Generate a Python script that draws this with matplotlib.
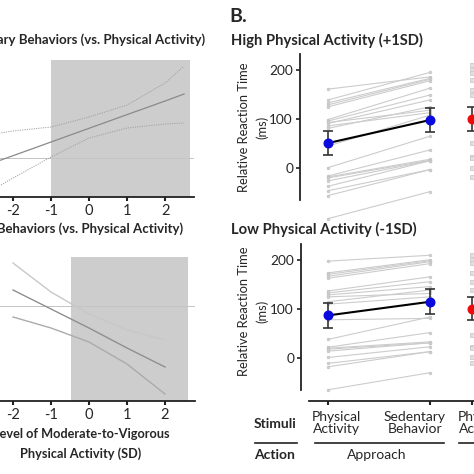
import matplotlib
matplotlib.use('Agg')
import matplotlib.pyplot as plt

plt.rcParams['font.family'] = ['Lato', 'DejaVu Sans']

# ---------------- data ----------------
# Panel A: conditional effect across level of MVPA (SD)
mvpa_ticks = [-2, -1, 0, 1, 2]

top_x = [-2.5, -2, -1, 0, 1, 2, 2.5]
top_est = [-4.5, 2.3, 16, 29.7, 43.4, 57, 64]
top_upper = [24, 27, 31, 41, 53, 75, 92]
top_lower = [-31, -20, 1, 20, 30, 34, 35]
top_region = [-1.0, 2.66]

bot_x = [-2, -1, 0, 1, 2]
bot_est = [16, -3, -22, -42, -61]
bot_upper = [43, 14, -8, -24, -34]
bot_lower = [-11, -22, -36, -58, -88]
bot_region = [-0.47, 2.6]

# Panel B: relative reaction time (ms)
cond_pos = [0, 1, 1.41]
yticks_b = [0, 100, 200]

high_pa = [161, 139, 133, 129, 125, 99, 96, 91, 81, 93, 86, 45, 1, -16, -18, -20, -26, -37, -46, -56, -103]
high_sb = [186, 195, 183, 181, 178, 163, 149, 139, 125, 118, 113, 108, 65, 37, 18, 16, 15, 15, -3, -3, -48]
high_avoid_pa = [210, 200, 194, 180, 159, 149, 51, 22, 20, 0, -18]
high_means = [51, 98, 100]
high_err = [25, 25, 24]

low_pa = [198, 174, 171, 167, 163, 137, 133, 129, 115, 125, 110, 78, 38, 22, 20, 18, 14, 1, -11, -18, -65]
low_sb = [210, 201, 199, 197, 193, 166, 156, 146, 139, 132, 125, 81, 84, 52, 33, 31, 31, 23, 13, 13, -30]
low_avoid_pa = [210, 200, 194, 173, 155, 139, 47, 22, 20, 2, -10]
low_means = [87, 115, 101]
low_err = [25, 25, 24]

# ---------------- layout helpers ----------------
W = 474.0
fig = plt.figure(figsize=(4.74, 4.74), dpi=100)


def rect(x0, y0, x1, y1):
    return [x0 / W, 1 - y1 / W, (x1 - x0) / W, (y1 - y0) / W]


def ft(x, y, s, **kw):
    kw.setdefault('va', 'center')
    fig.text(x / W, 1 - y / W, s, **kw)


TXT = '#262626'

# ---------------- Panel A ----------------
def panel_a(ax, xs, est, up, lo, region, ylim, xlim, style):
    ax.axvspan(region[0], region[1], color='#cdcdcd', lw=0, zorder=0)
    ax.axhline(0, color='#c4c4c4', lw=0.7, zorder=1)
    if style == 'dotted':
        ax.plot(xs, up, color='#a0a0a0', lw=0.7, ls=(0, (1.2, 1.2)), zorder=2)
        ax.plot(xs, lo, color='#a0a0a0', lw=0.7, ls=(0, (1.2, 1.2)), zorder=2)
        ax.plot(xs, est, color='#8a8a8a', lw=0.9, zorder=3)
    else:
        ax.plot(xs, up, color='#c8c8c8', lw=1.0, zorder=2)
        ax.plot(xs, lo, color='#ababab', lw=1.0, zorder=2)
        ax.plot(xs, est, color='#8f8f8f', lw=1.0, zorder=3)
    ax.set_xlim(*xlim)
    ax.set_ylim(*ylim)
    for s in ['top', 'right', 'left']:
        ax.spines[s].set_visible(False)
    ax.spines['bottom'].set_linewidth(1.3)
    ax.spines['bottom'].set_color('#222222')
    ax.set_yticks([])
    ax.set_xticks(mvpa_ticks)
    ax.set_xticklabels([str(t) for t in mvpa_ticks])
    ax.tick_params(axis='x', length=3, width=1.5, color='#222222',
                   labelsize=10.5, labelcolor=TXT, pad=2)


ax1 = fig.add_axes(rect(-25, 60, 194, 197))
panel_a(ax1, top_x, top_est, top_upper, top_lower, top_region, (-39, 98), (-3, 2.76), 'dotted')

ax2 = fig.add_axes(rect(-25, 257, 195.4, 401))
panel_a(ax2, bot_x, bot_est, bot_upper, bot_lower, bot_region, (-95, 49), (-3, 2.8), 'solid')

ft(205, 40, 'Approach Bias to Sedentary Behaviors (vs. Physical Activity)',
   ha='right', fontsize=9.5, fontweight='bold', color=TXT)
ft(183, 229, 'Avoidance Bias to Sedentary Behaviors (vs. Physical Activity)',
   ha='right', fontsize=9.5, fontweight='bold', color=TXT)
ft(81, 434, 'Level of Moderate-to-Vigorous', ha='center', fontsize=9.2,
   fontweight='bold', color=TXT)
ft(81, 454, 'Physical Activity (SD)', ha='center', fontsize=9.2,
   fontweight='bold', color=TXT)

# ---------------- Panel B ----------------
def panel_b(ax, pa, sb, avoid, means, err, xlim, ylim, spine_lo, show_x):
    gray = '#cccccc'
    for a, b in zip(pa, sb):
        ax.plot(cond_pos[:2], [a, b], color=gray, lw=0.8, marker='o', ms=2,
                mfc='#d0d0d0', mec='#c0c0c0', mew=0.4, zorder=1, clip_on=False)
    ax.plot([cond_pos[2]] * len(avoid), avoid, ls='none', marker='s', ms=2.2,
            mfc='#e0e0e0', mec='#c4c4c4', mew=0.5, zorder=1, clip_on=False)
    ax.plot(cond_pos[:2], means[:2], color='black', lw=1.5, zorder=3)
    ax.errorbar(cond_pos[:2], means[:2], yerr=err[:2], fmt='none',
                ecolor='#333333', elinewidth=1.2, capsize=3.6, capthick=1.2, zorder=4)
    ax.plot(cond_pos[:2], means[:2], ls='none', marker='o', ms=6.2,
            color='#0a0adc', zorder=5)
    ax.errorbar([cond_pos[2]], [means[2]], yerr=[err[2]], fmt='none',
                ecolor='#333333', elinewidth=1.2, capsize=3.6, capthick=1.2, zorder=4)
    ax.plot([cond_pos[2]], [means[2]], ls='none', marker='o', ms=6.2,
            color='#ee0a0a', zorder=5)
    ax.set_xlim(*xlim)
    ax.set_ylim(*ylim)
    ax.spines['top'].set_visible(False)
    ax.spines['right'].set_visible(False)
    ax.spines['left'].set_linewidth(1.3)
    ax.spines['left'].set_color('#222222')
    ax.spines['left'].set_bounds(spine_lo, ylim[1])
    ax.set_yticks(yticks_b)
    ax.tick_params(axis='y', length=3, width=1.2, color='#222222',
                   labelsize=9.8, labelcolor=TXT, pad=2)
    if show_x:
        ax.spines['bottom'].set_linewidth(1.3)
        ax.spines['bottom'].set_color('#222222')
        ax.spines['bottom'].set_bounds(-0.186, xlim[1])
        ax.set_xticks(cond_pos)
        ax.set_xticklabels([])
        ax.tick_params(axis='x', length=3, width=1.5, color='#222222')
    else:
        ax.spines['bottom'].set_visible(False)
        ax.set_xticks([])


ax3 = fig.add_axes(rect(300, 54, 593, 200))
panel_b(ax3, high_pa, high_sb, high_avoid_pa, high_means, high_err,
        (-0.275, 2.6), (-65, 232.6), -65, False)

ax4 = fig.add_axes(rect(301, 244, 594, 401))
panel_b(ax4, low_pa, low_sb, low_avoid_pa, low_means, low_err,
        (-0.265, 2.6), (-88, 233), -65, True)

ft(229, 16, 'B.', ha='left', fontsize=14, fontweight='bold', color=TXT)
ft(231, 40, 'High Physical Activity (+1SD)', ha='left', fontsize=10.6,
   fontweight='bold', color=TXT)
ft(231, 229, 'Low Physical Activity (-1SD)', ha='left', fontsize=10.6,
   fontweight='bold', color=TXT)

for yc in (127, 311):
    ft(253, yc, 'Relative Reaction Time\n(ms)', ha='center', rotation=90,
       fontsize=9.3, color=TXT, linespacing=1.5)

# stimuli / action table
ft(275, 424, 'Stimuli', ha='center', fontsize=10, fontweight='bold', color=TXT)
ft(275, 455, 'Action', ha='center', fontsize=10, fontweight='bold', color=TXT)
ft(336, 423, 'Physical\nActivity', ha='center', fontsize=10, color=TXT, linespacing=1.0)
ft(415, 423, 'Sedentary\nBehavior', ha='center', fontsize=10, color=TXT, linespacing=1.0)
ft(482, 423, 'Physical\nActivity', ha='center', fontsize=10, color=TXT, linespacing=1.0)
ft(377, 455, 'Approach', ha='center', fontsize=10, color=TXT)
for x0, x1 in [(255, 297), (315, 444), (459, 560)]:
    fig.add_artist(plt.Line2D([x0 / W, x1 / W], [1 - 443 / W] * 2, color='#222222', lw=1.2))

fig.savefig('out.png', dpi=100)
